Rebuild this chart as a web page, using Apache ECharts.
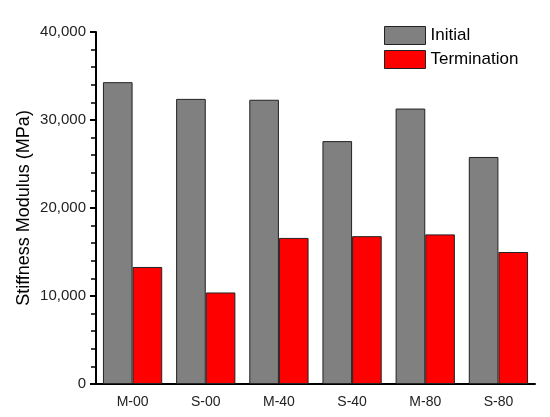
<!DOCTYPE html>
<html>
<head>
<meta charset="utf-8">
<script src="https://cdn.jsdelivr.net/npm/echarts@6/dist/echarts.min.js"></script>
<style>html,body{margin:0;padding:0;background:#fff;}#c{width:550px;height:417px;}</style>
</head>
<body>
<div id="c"></div>
<script>
const categories = ['M-00', 'S-00', 'M-40', 'S-40', 'M-80', 'S-80'];
const initialValues = [34300, 32400, 32300, 27600, 31300, 25800];
const terminationValues = [13300, 10400, 16600, 16800, 17000, 15000];
const seriesNames = ['Initial', 'Termination'];

const chart = echarts.init(document.getElementById('c'));
const font = 'Arial, "Liberation Sans", sans-serif';
chart.setOption({
  animation: false,
  backgroundColor: '#fff',
  grid: { left: 96, right: 15, top: 32, bottom: 33, containLabel: false },
  legend: {
    data: seriesNames,
    orient: 'vertical',
    left: 384, top: 26, padding: 0,
    icon: 'rect',
    itemWidth: 41, itemHeight: 18, itemGap: 5,
    textStyle: { fontFamily: font, fontSize: 17, color: '#000' },
    itemStyle: { borderColor: '#222', borderWidth: 1 }
  },
  xAxis: {
    type: 'category',
    data: categories,
    axisLine: { lineStyle: { color: '#000', width: 2 } },
    axisTick: { alignWithLabel: true, length: 6, lineStyle: { color: '#000', width: 2 } },
    axisLabel: { fontFamily: font, fontSize: 14, color: '#222', margin: 11 }
  },
  yAxis: {
    type: 'value',
    min: 0, max: 40000, interval: 10000,
    name: 'Stiffness Modulus (MPa)',
    nameLocation: 'middle',
    nameGap: 63,
    nameMoveOverlap: false,
    nameTextStyle: { fontFamily: font, fontSize: 18, color: '#000' },
    axisLine: { show: true, lineStyle: { color: '#000', width: 2 } },
    axisTick: { show: true, length: 6, lineStyle: { color: '#000', width: 2 } },
    minorTick: { show: true, splitNumber: 5, length: 5, lineStyle: { color: '#000', width: 1.5 } },
    splitLine: { show: false },
    axisLabel: {
      fontFamily: font, fontSize: 15, color: '#222', margin: 10,
      formatter: v => v.toLocaleString('en-US')
    }
  },
  series: [
    {
      name: seriesNames[0], type: 'bar', data: initialValues,
      barGap: '0%', barCategoryGap: '19%',
      itemStyle: { color: '#808080', borderColor: '#222', borderWidth: 1 }
    },
    {
      name: seriesNames[1], type: 'bar', data: terminationValues,
      itemStyle: { color: '#ff0000', borderColor: '#222', borderWidth: 1 }
    }
  ]
});
</script>
</body>
</html>
